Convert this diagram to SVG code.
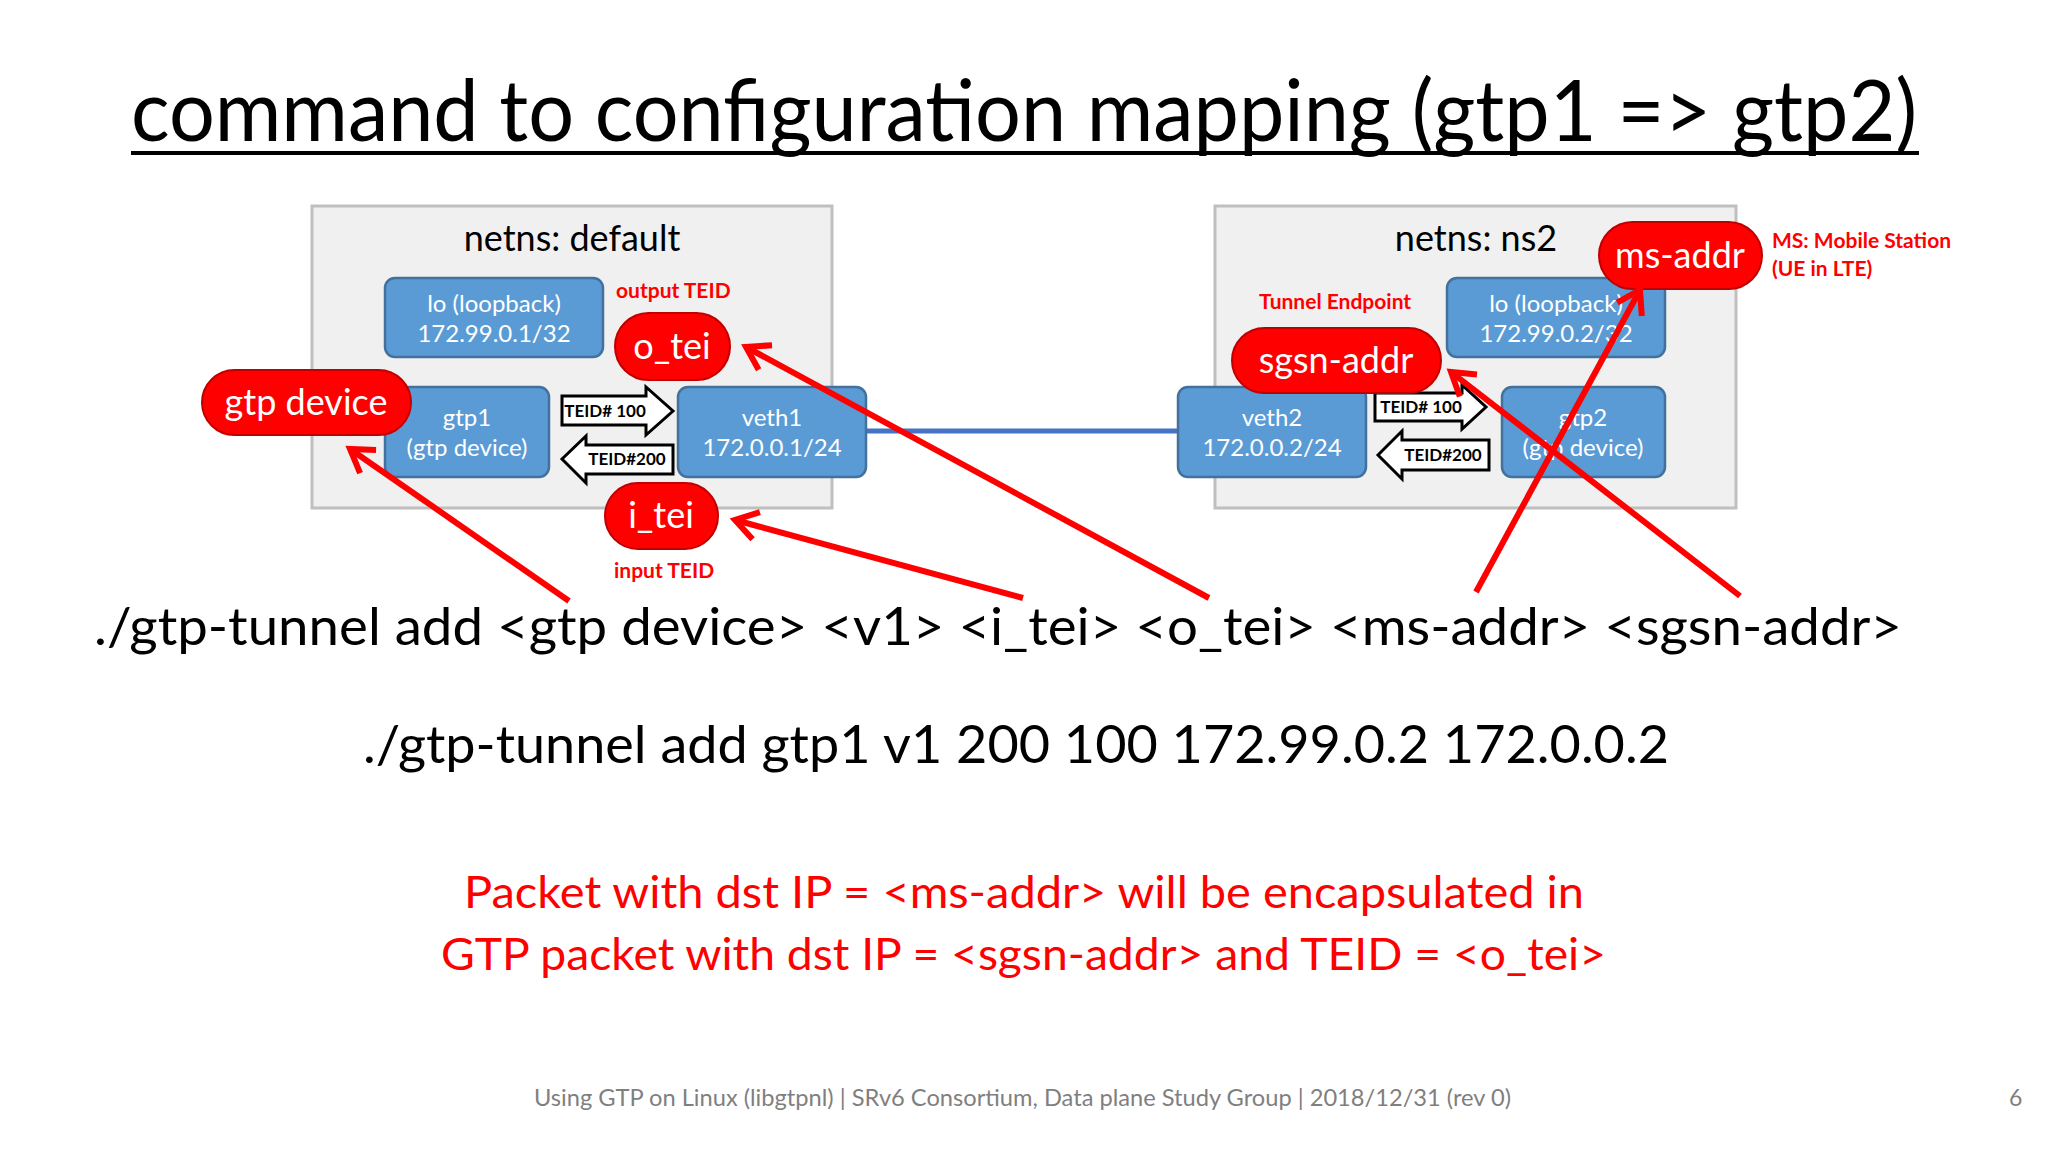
<svg xmlns="http://www.w3.org/2000/svg" width="2048" height="1152" viewBox="0 0 2048 1152">
<defs>
<style>
.t{font-family:Lato,"Open Sans","Liberation Sans",sans-serif}
.ns{fill:#f0f0f0;stroke:#bfbfbf;stroke-width:3}
.nst{font-size:36px;fill:#000;text-anchor:middle}
.blue{fill:#5b9bd5;stroke:#41719c;stroke-width:2.5}
.bt{font-size:24px;fill:#fff;text-anchor:middle}
.pill{fill:#ff0000;stroke:#c00000;stroke-width:2}
.pt{font-size:36px;fill:#fff;text-anchor:middle}
.lbl{font-size:21px;font-weight:bold;fill:#ff0000}
.teid{fill:#fff;stroke:#000;stroke-width:3;stroke-linejoin:miter}
.tt{font-size:17px;font-weight:bold;fill:#000;text-anchor:middle}
.ra{stroke:#ff0000;stroke-width:6;fill:none;marker-end:url(#ah)}
</style>
<marker id="ah" markerUnits="userSpaceOnUse" markerWidth="40" markerHeight="40" viewBox="0 0 40 40" refX="34" refY="20" orient="auto" overflow="visible">
<path d="M12,6 L34,20 L12,34" fill="none" stroke="#ff0000" stroke-width="6"/>
</marker>
</defs>
<rect width="2048" height="1152" fill="#fff"/>

<g id="title">
<text class="t" x="131" y="141" font-size="86" textLength="1786" lengthAdjust="spacingAndGlyphs">command to configuration mapping (gtp1 =&gt; gtp2)</text>
<rect x="131" y="151" width="1788" height="4" fill="#000"/>
</g>

<g id="netns-default">
<rect class="ns" x="312" y="206" width="520" height="302"/>
<text class="t nst" x="572" y="251">netns: default</text>
</g>
<g id="netns-ns2">
<rect class="ns" x="1215" y="206" width="521" height="302"/>
<text class="t nst" x="1476" y="251">netns: ns2</text>
</g>

<g id="connectors-link">
<line x1="866" y1="431" x2="1178" y2="431" stroke="#4472c4" stroke-width="5"/>
</g>

<g id="lo-default">
<rect class="blue" x="385" y="278" width="218" height="79" rx="10"/>
<text class="t bt" x="494" y="312">lo (loopback)</text>
<text class="t bt" x="494" y="342">172.99.0.1/32</text>
</g>
<g id="gtp1">
<rect class="blue" x="385" y="387" width="164" height="90" rx="10"/>
<text class="t bt" x="467" y="426">gtp1</text>
<text class="t bt" x="467" y="456">(gtp device)</text>
</g>
<g id="veth1">
<rect class="blue" x="678" y="387" width="188" height="90" rx="10"/>
<text class="t bt" x="772" y="426">veth1</text>
<text class="t bt" x="772" y="456">172.0.0.1/24</text>
</g>
<g id="veth2">
<rect class="blue" x="1178" y="387" width="188" height="90" rx="10"/>
<text class="t bt" x="1272" y="426">veth2</text>
<text class="t bt" x="1272" y="456">172.0.0.2/24</text>
</g>
<g id="gtp2">
<rect class="blue" x="1502" y="387" width="163" height="90" rx="10"/>
<text class="t bt" x="1583" y="426">gtp2</text>
<text class="t bt" x="1583" y="456">(gtp device)</text>
</g>
<g id="lo-ns2">
<rect class="blue" x="1447" y="278" width="218" height="79" rx="10"/>
<text class="t bt" x="1556" y="312">lo (loopback)</text>
<text class="t bt" x="1556" y="342">172.99.0.2/32</text>
</g>

<g id="teid-100-left">
<polygon class="teid" points="562,396 646,396 646,387 673,411 646,435 646,425 562,425"/>
<text class="t tt" x="605" y="417">TEID# 100</text>
</g>
<g id="teid-200-left">
<polygon class="teid" points="562,459 586,436 586,445 673,445 673,474 586,474 586,483"/>
<text class="t tt" x="627" y="465">TEID#200</text>
</g>
<g id="teid-100-right">
<polygon class="teid" points="1375,393 1462,393 1462,385 1486,407 1462,429 1462,421 1375,421"/>
<text class="t tt" x="1421" y="413">TEID# 100</text>
</g>
<g id="teid-200-right">
<polygon class="teid" points="1378,455 1402,431 1402,440 1489,440 1489,470 1402,470 1402,479"/>
<text class="t tt" x="1443" y="461">TEID#200</text>
</g>

<g id="gtp-device">
<rect class="pill" x="202" y="370" width="209" height="65" rx="32.5"/>
<text class="t pt" x="306" y="415">gtp device</text>
</g>
<g id="o-tei">
<rect class="pill" x="615" y="313" width="115" height="67" rx="33.5"/>
<text class="t pt" x="672" y="359">o_tei</text>
<text class="t lbl" x="616" y="298">output TEID</text>
</g>
<g id="i-tei">
<rect class="pill" x="605" y="483" width="113" height="66" rx="33"/>
<text class="t pt" x="661" y="528">i_tei</text>
<text class="t lbl" x="614" y="578">input TEID</text>
</g>
<g id="sgsn-addr">
<rect class="pill" x="1232" y="328" width="209" height="65" rx="32.5"/>
<text class="t pt" x="1336" y="373">sgsn-addr</text>
<text class="t lbl" x="1259" y="309">Tunnel Endpoint</text>
</g>
<g id="ms-addr">
<rect class="pill" x="1599" y="222" width="163" height="67" rx="33.5"/>
<text class="t pt" x="1680" y="268">ms-addr</text>
<text class="t lbl" x="1772" y="248">MS: Mobile Station</text>
<text class="t lbl" x="1772" y="276">(UE in LTE)</text>
</g>

<g id="commands">
<text class="t" x="94" y="645" font-size="52" textLength="1808" lengthAdjust="spacingAndGlyphs">./gtp-tunnel add &lt;gtp device&gt; &lt;v1&gt; &lt;i_tei&gt; &lt;o_tei&gt; &lt;ms-addr&gt; &lt;sgsn-addr&gt;</text>
<text class="t" x="363" y="763" font-size="52" textLength="1306" lengthAdjust="spacingAndGlyphs">./gtp-tunnel add gtp1 v1 200 100 172.99.0.2 172.0.0.2</text>
</g>

<g id="note">
<text class="t" x="464" y="908" font-size="45" fill="#ff0000" textLength="1120" lengthAdjust="spacingAndGlyphs">Packet with dst IP = &lt;ms-addr&gt; will be encapsulated in</text>
<text class="t" x="441" y="970" font-size="45" fill="#ff0000" textLength="1165" lengthAdjust="spacingAndGlyphs">GTP packet with dst IP = &lt;sgsn-addr&gt; and TEID = &lt;o_tei&gt;</text>
</g>

<g id="connectors">
<line class="ra" x1="569" y1="601" x2="350" y2="449"/>
<line class="ra" x1="1023" y1="598" x2="735" y2="520"/>
<line class="ra" x1="1209" y1="598" x2="746" y2="347"/>
<line class="ra" x1="1476" y1="592" x2="1640" y2="290"/>
<line class="ra" x1="1740" y1="596" x2="1451" y2="372"/>
</g>

<g id="footer">
<text class="t" x="534" y="1106" font-size="23" fill="#7f7f7f" textLength="977" lengthAdjust="spacingAndGlyphs">Using GTP on Linux (libgtpnl) | SRv6 Consortium, Data plane Study Group | 2018/12/31 (rev 0)</text>
<text class="t" x="2009" y="1106" font-size="23" fill="#7f7f7f">6</text>
</g>
</svg>
